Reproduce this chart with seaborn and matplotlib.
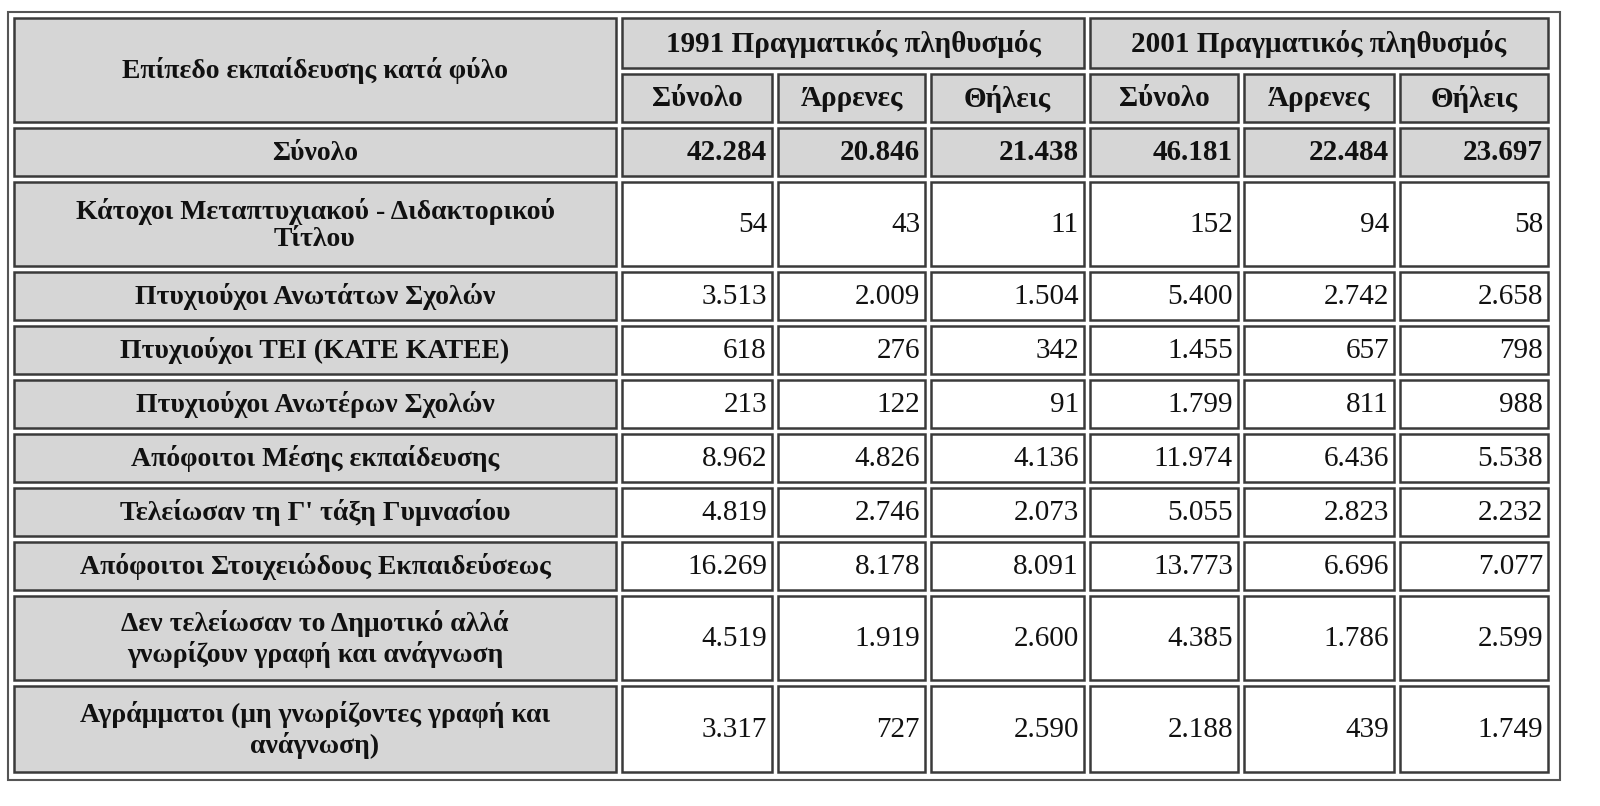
import matplotlib
matplotlib.use("Agg")
import matplotlib.pyplot as plt
import seaborn as sns
from matplotlib.patches import Rectangle

sns.set_theme(style="white")
plt.rcParams['font.family'] = ['Liberation Serif', 'DejaVu Serif']

title = "Επίπεδο εκπαίδευσης κατά φύλο"
years = ["1991 Πραγματικός πληθυσμός", "2001 Πραγματικός πληθυσμός"]
subcols = ["Σύνολο", "Άρρενες", "Θήλεις"]
categories = ["Σύνολο",
              "Κάτοχοι Μεταπτυχιακού - Διδακτορικού\nΤίτλου",
              "Πτυχιούχοι Ανωτάτων Σχολών",
              "Πτυχιούχοι ΤΕΙ (ΚΑΤΕ ΚΑΤΕΕ)",
              "Πτυχιούχοι Ανωτέρων Σχολών",
              "Απόφοιτοι Μέσης εκπαίδευσης",
              "Τελείωσαν τη Γ' τάξη Γυμνασίου",
              "Απόφοιτοι Στοιχειώδους Εκπαιδεύσεως",
              "Δεν τελείωσαν το Δημοτικό αλλά\nγνωρίζουν γραφή και ανάγνωση",
              "Αγράμματοι (μη γνωρίζοντες γραφή και\nανάγνωση)"]
tot1991 = ["42.284", "54", "3.513", "618", "213", "8.962", "4.819", "16.269", "4.519", "3.317"]
male1991 = ["20.846", "43", "2.009", "276", "122", "4.826", "2.746", "8.178", "1.919", "727"]
fem1991 = ["21.438", "11", "1.504", "342", "91", "4.136", "2.073", "8.091", "2.600", "2.590"]
tot2001 = ["46.181", "152", "5.400", "1.455", "1.799", "11.974", "5.055", "13.773", "4.385", "2.188"]
male2001 = ["22.484", "94", "2.742", "657", "811", "6.436", "2.823", "6.696", "1.786", "439"]
fem2001 = ["23.697", "58", "2.658", "798", "988", "5.538", "2.232", "7.077", "2.599", "1.749"]
series = [tot1991, male1991, fem1991, tot2001, male2001, fem2001]

fig = plt.figure(figsize=(16, 8.06), dpi=100)
ax = fig.add_axes([0, 0, 1, 1])
ax.set_xlim(0, 1600); ax.set_ylim(806, 0); ax.axis("off")

GRAY = "#d6d6d6"
def cell(x0, x1, y0, y1, fc, text="", ha="center", bold=True, size=20):
    ax.add_patch(Rectangle((x0, y0), x1 - x0, y1 - y0, facecolor=fc,
                           edgecolor="#3a3a3a", lw=1.8))
    if text:
        tx = {"center": (x0 + x1) / 2, "right": x1 - 5}[ha]
        ax.text(tx, (y0 + y1) / 2 + 1, text, ha=ha, va="center", fontsize=size,
                fontweight="bold" if bold else "normal", color="#111",
                linespacing=1.15, multialignment="center")

ax.add_patch(Rectangle((8, 12), 1552, 768, facecolor="white", edgecolor="#555", lw=1.5))

cx = [(622, 772), (778, 925), (931, 1084), (1090, 1238), (1244, 1394), (1400, 1548)]
lab = (14, 616)
cell(lab[0], lab[1], 18, 122, GRAY, title, size=20)
cell(cx[0][0], cx[2][1], 18, 68, GRAY, years[0], size=21)
cell(cx[3][0], cx[5][1], 18, 68, GRAY, years[1], size=21)
for i, (a, b) in enumerate(cx):
    cell(a, b, 74, 122, GRAY, subcols[i % 3], size=21)

rows = [(128, 176), (182, 266), (272, 320), (326, 374), (380, 428), (434, 482),
        (488, 536), (542, 590), (596, 680), (686, 772)]
for r, (y0, y1) in enumerate(rows):
    cell(lab[0], lab[1], y0, y1, GRAY, categories[r], size=20)
    for c, (a, b) in enumerate(cx):
        cell(a, b, y0, y1, GRAY if r == 0 else "white", series[c][r], ha="right",
             bold=(r == 0), size=21)

fig.savefig("out.png", dpi=100)
